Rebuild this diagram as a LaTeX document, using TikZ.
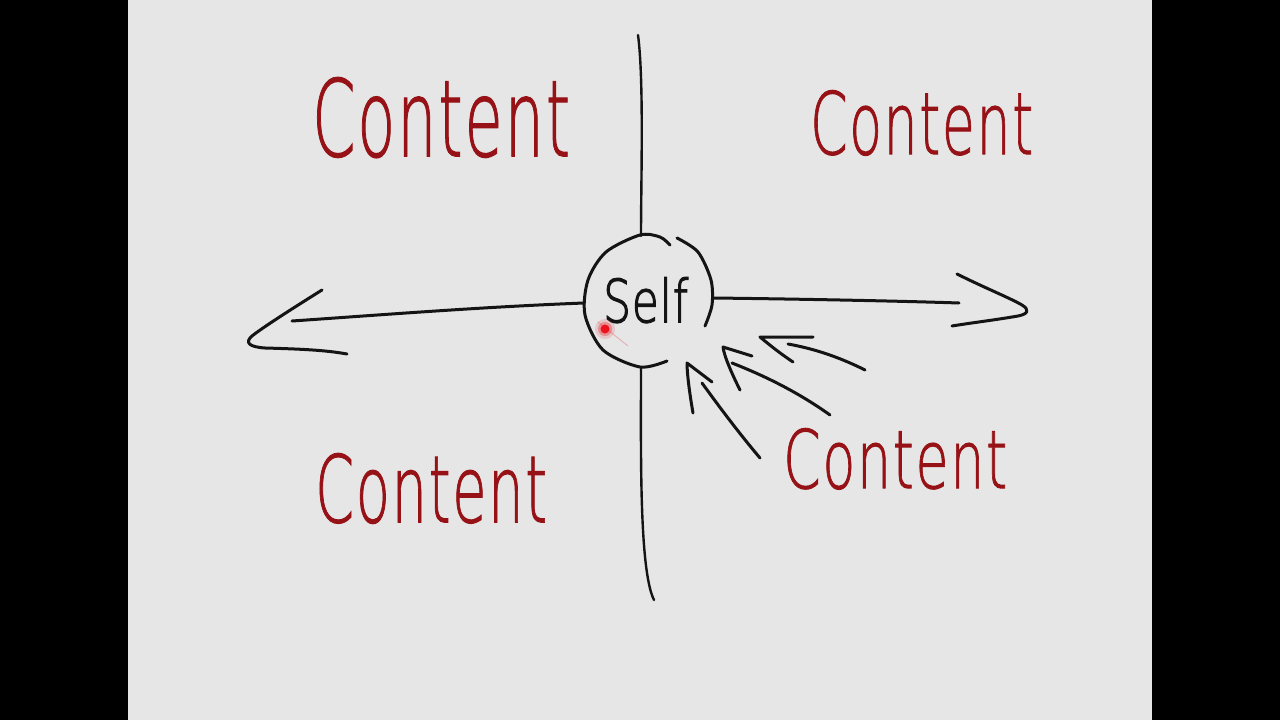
\documentclass[tikz,border=0pt]{standalone}
\usepackage{fontspec}
\newfontfamily\hand{DejaVu Sans ExtraLight}[LetterSpace=3, FakeBold=1.2]
\newfontfamily\handself{DejaVu Sans ExtraLight}[LetterSpace=2, FakeBold=2.2]
\usepackage{graphicx}
\definecolor{paper}{RGB}{230,230,230}
\definecolor{ink}{RGB}{20,20,20}
\definecolor{redink}{RGB}{150,18,22}
\definecolor{laser}{RGB}{235,20,30}
\tikzset{
  stroke/.style={draw=ink, line width=3pt, line cap=round, line join=round},
  thinstroke/.style={draw=ink, line width=2.4pt, line cap=round, line join=round},
  label/.style={inner sep=0pt, anchor=north west, text=redink},
  selflabel/.style={inner sep=0pt, anchor=north west, text=ink}
}
\begin{document}
\begin{tikzpicture}[x=1pt,y=-1pt]
  % page and side bars
  \fill[black] (0,0) rectangle (1280,720);
  \fill[paper] (128,0) rectangle (1152,720);
  \useasboundingbox (0,0) rectangle (1280,720);

  % labels
  \node[label] (tl) at (312,77) {\resizebox{258pt}{79pt}{\hand Content}};
  \node[label] (tr) at (810,90) {\resizebox{223pt}{64pt}{\hand Content}};
  \node[label] (bl) at (315,453) {\resizebox{232pt}{69pt}{\hand Content}};
  \node[label] (br) at (783,428) {\resizebox{224pt}{60pt}{\hand Content}};
  \node[selflabel] (self) at (603,277) {\resizebox{85pt}{45pt}{\handself Self}};

  % circle around Self (two hand-drawn arcs)
  \draw[stroke] plot[smooth] coordinates {(667,361) (640,367) (603,350) (585,315) (588,280) (606,252) (640,235) (660,237) (670,245)};
  \draw[stroke] plot[smooth] coordinates {(677,238) (698,252) (711,280) (712,305) (705,326)};

  % axis end points
  \coordinate (topend) at (638,35);
  \coordinate (topstart) at (641,236);
  \coordinate (botstart) at (641,367);
  \coordinate (botend) at (654,600);
  \coordinate (lstart) at (584,303);
  \coordinate (lend) at (292,321);
  \coordinate (rstart) at (713,298);
  \coordinate (rend) at (959,303);

  % vertical axis
  \draw[thinstroke] (topend) .. controls (644,80) and (641,180) .. (topstart);
  \draw[thinstroke] (botstart) .. controls (641,450) and (639,570) .. (botend);

  % horizontal axis with hand-drawn heads
  \draw[stroke] (lstart) .. controls (480,307) and (380,315) .. (lend);
  \draw[stroke] (322,290) .. controls (290,310) and (262,328) .. (252,336)
                .. controls (244,343) and (250,347) .. (265,348)
                .. controls (300,349) and (325,350) .. (347,354);
  \draw[stroke] (rstart) .. controls (800,299) and (900,301) .. (rend);
  \draw[stroke] (957,274) .. controls (985,288) and (1010,298) .. (1022,305)
                .. controls (1030,310) and (1028,314) .. (1018,316)
                .. controls (995,320) and (970,323) .. (952,326);

  % incoming arrows
  \coordinate (a1s) at (760,458); \coordinate (a1e) at (702,383);
  \coordinate (a2s) at (830,415); \coordinate (a2e) at (732,363);
  \coordinate (a3s) at (865,370); \coordinate (a3e) at (788,344);
  \draw[stroke] (a1s) .. controls (738,432) and (718,405) .. (a1e);
  \draw[stroke] (693,413) .. controls (689,390) and (687,372) .. (687,363) -- (712,382);
  \draw[stroke] (a2s) .. controls (795,390) and (760,374) .. (a2e);
  \draw[stroke] (740,390) .. controls (730,370) and (724,355) .. (723,347) -- (752,356);
  \draw[stroke] (a3s) .. controls (835,355) and (810,348) .. (a3e);
  \draw[stroke] (793,362) .. controls (778,352) and (766,342) .. (760,337) -- (813,337);

  % laser pointer dot
  \fill[laser, opacity=0.15] (605,329) circle (10);
  \fill[laser, opacity=0.3] (605,329) circle (7);
  \draw[laser, opacity=0.25, line width=1pt] (598,322) -- (628,346);
  \fill[laser] (605,329) circle (4.5);
\end{tikzpicture}
\end{document}
